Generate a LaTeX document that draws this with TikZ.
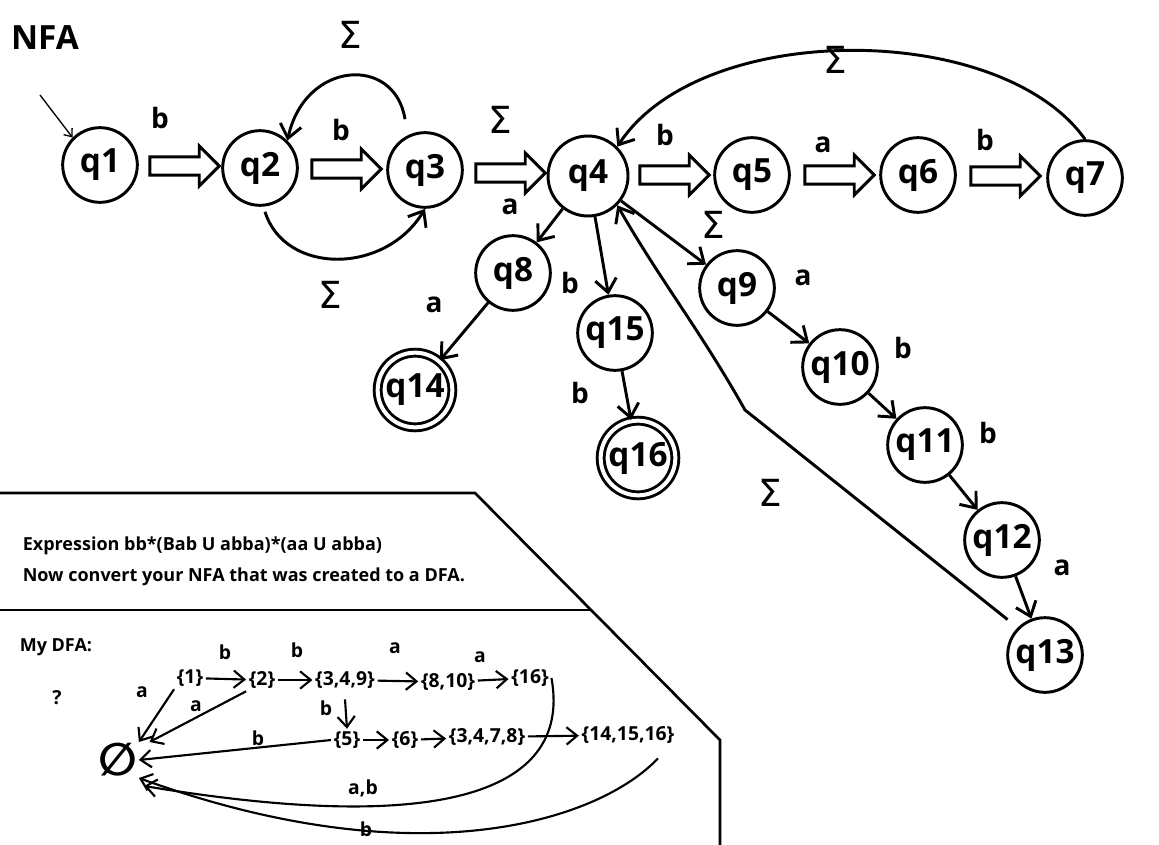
\documentclass[tikz,border=0pt]{standalone}
\usepackage{fontspec}
\setmainfont{Open Sans}
\newfontfamily\dejavu{DejaVu Sans}
\usetikzlibrary{shapes.arrows,arrows.meta}
\begin{document}
\begin{tikzpicture}[x=0.75pt,y=-0.75pt,line width=2.2pt,
 st/.style={draw,circle,minimum size=56pt,inner sep=0pt,font=\bfseries\fontsize{25}{27}\selectfont},
 acc/.style={st,double,double distance=3pt},
 fat/.style={draw,single arrow,minimum height=52pt,minimum width=30pt,single arrow head extend=6pt,inner sep=4pt,line width=2.2pt},
 lab/.style={font=\bfseries\fontsize{21}{23}\selectfont,inner sep=0pt},
 eps/.style={font=\dejavu\fontsize{28}{30}\selectfont,inner sep=0pt},
 dl/.style={font=\bfseries\fontsize{13.5}{15}\selectfont,inner sep=1pt},
 ds/.style={font=\bfseries\fontsize{14.5}{16}\selectfont,inner sep=1pt},
 ar/.style={-{Straight Barb[length=10pt,width=16pt]}},
 sa/.style={line width=1.6pt,-{Straight Barb[length=8pt,width=13pt]}}]
\useasboundingbox[fill=white] (0,0) rectangle (1159,845);
\node[font=\bfseries\fontsize{25}{27}\selectfont] (title) at (45,38) {NFA};
\node[st] (q1) at (100,165) {q1};
\node[st] (q2) at (260,168) {q2};
\node[st] (q3) at (425,170) {q3};
\node[st,minimum size=60pt] (q4) at (588,176) {q4};
\node[st] (q5) at (752,175) {q5};
\node[st] (q6) at (918,175) {q6};
\node[st] (q7) at (1085,178) {q7};
\node[st] (q8) at (513,273) {q8};
\node[st] (q15) at (615,333) {q15};
\node[acc] (q14) at (415,390) {q14};
\node[acc] (q16) at (638,458) {q16};
\node[st] (q9) at (737,288) {q9};
\node[st] (q10) at (840,367) {q10};
\node[st] (q11) at (925,445) {q11};
\node[st] (q12) at (1002,540) {q12};
\node[st] (q13) at (1045,655) {q13};
\coordinate (init) at (40,95);
\draw[line width=1pt,-{Straight Barb[length=5pt,width=8pt]}] (init) -- (q1.north west);
\node[fat] (f12) at (180,166) {};
\node[fat] (f23) at (342,169) {};
\node[fat] (f34) at (506,173) {};
\node[fat] (f45) at (670,175) {};
\node[fat] (f56) at (835,175) {};
\node[fat] (f67) at (1001,176) {};
\node[lab] (l1) at (160,118) {b};
\node[lab] (l2) at (341,130) {b};
\node[lab] (l3) at (665,135) {b};
\node[lab] (l4) at (823,145) {a};
\node[lab] (l5) at (985,140) {b};
\node[eps] (e1) at (350,35) {Σ};
\node[eps] (e2) at (330,295) {Σ};
\node[eps] (e3) at (500,120) {Σ};
\node[eps] (e4) at (835,60) {Σ};
\node[eps] (e5) at (713,225) {Σ};
\node[eps] (e6) at (770,493) {Σ};
\draw[ar] (q3.north) ++(-20,-12) .. controls (395,55) and (305,60) .. (q2.north east);
\draw[ar] (q2.south) ++(5,5) .. controls (285,275) and (385,275) .. (q3.south);
\draw[ar] (q7.north) .. controls (1000,20) and (700,20) .. (q4.north east);
\draw[ar] (q4) -- (q8);
\draw[ar] (q4) -- (q15);
\draw[ar] (q4) -- (q9);
\draw[ar] (q8) -- (q14);
\draw[ar] (q15) -- (q16);
\draw[ar] (q9) -- (q10);
\draw[ar] (q10) -- (q11);
\draw[ar] (q11) -- (q12);
\draw[ar] (q12) -- (q13);
\draw[ar] (q13.north west) ++(-10,-8) -- (745,410) .. controls (700,330) and (660,280) .. (q4.south east);
\node[lab] at (510,207) {a};
\node[lab] at (570,283) {b};
\node[lab] at (434,305) {a};
\node[lab] at (580,393) {b};
\node[lab] at (803,278) {a};
\node[lab] at (903,348) {b};
\node[lab] at (988,433) {b};
\node[lab] at (1062,568) {a};
% boxes
\coordinate (b1) at (0,493); \coordinate (b2) at (475,493);
\coordinate (b3) at (720,740); \coordinate (b4) at (720,845);
\draw[line width=2pt] (b1) -- (b2) -- (b3) -- (b4);
\coordinate (c1) at (0,610); \coordinate (c2) at (590,610);
\draw[line width=2pt] (c1) -- (c2);
\node[dl,anchor=west] (t1) at (20,546) {Expression bb*(Bab U abba)*(aa U abba)};
\node[dl,anchor=west] (t2) at (20,577) {Now convert your NFA that was created to a DFA.};
\node[dl,anchor=west] (t3) at (17,647) {My DFA:};
\node[ds] (qm) at (57,698) {?};
% DFA
\node[ds] (d1) at (190,678) {\{1\}};
\node[ds] (d2) at (262,680) {\{2\}};
\node[ds] (d3) at (345,680) {\{3,4,9\}};
\node[ds] (d4) at (448,682) {\{8,10\}};
\node[ds] (d5) at (530,678) {\{16\}};
\node[ds] (d6) at (347,740) {\{5\}};
\node[ds] (d7) at (405,740) {\{6\}};
\node[ds] (d8) at (487,737) {\{3,4,7,8\}};
\node[ds] (d9) at (628,735) {\{14,15,16\}};
\node[font=\dejavu\bfseries\fontsize{34}{34}\selectfont,inner sep=0pt] (empty) at (118,760) {∅};
\draw[sa] (d1) -- (d2);
\draw[sa] (d2) -- (d3);
\draw[sa] (d3) -- (d4);
\draw[sa] (d4) -- (d5);
\draw[sa] (d3.south) ++(0,8) -- (d6.north);
\draw[sa] (d6) -- (d7);
\draw[sa] (d7) -- (d8);
\draw[sa] (d8) -- (d9);
\draw[sa] (d1.south west) -- (empty.north east);
\draw[sa] (d2.south west) -- ([xshift=8pt]empty.north east);
\draw[sa] (d6.west) -- (empty.east);
\draw[sa] (d5.east) .. controls (570,780) and (470,840) .. ([xshift=4pt,yshift=-6pt]empty.south east);
\draw[sa] (d9.south) ++(30,12) .. controls (600,820) and (420,880) .. (empty.south east);
\node[ds] at (225,652) {b};
\node[ds] at (297,650) {b};
\node[ds] at (395,648) {a};
\node[ds] at (480,657) {a};
\node[ds] at (142,692) {a};
\node[ds] at (196,706) {a};
\node[ds] at (258,738) {b};
\node[ds] at (326,708) {b};
\node[ds] at (363,788) {a,b};
\node[ds] at (366,829) {b};
\end{tikzpicture}
\end{document}
